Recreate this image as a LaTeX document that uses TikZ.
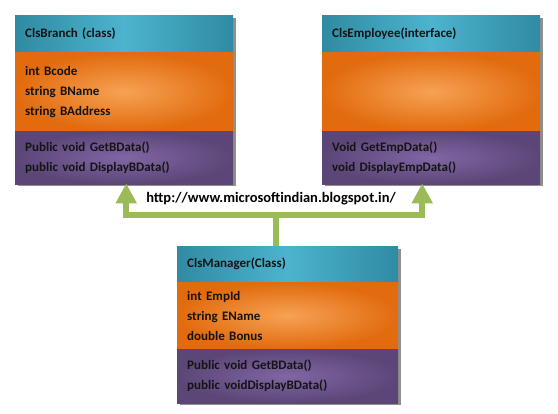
\documentclass[tikz,border=0pt]{standalone}
\usepackage{fontspec}
\setmainfont[WordSpace=0.75]{Carlito}
\usetikzlibrary{shadows,arrows.meta}
\definecolor{hdrD}{HTML}{2F8BA2}
\definecolor{hdrL}{HTML}{4DB3CE}
\definecolor{orD}{HTML}{E26B0E}
\definecolor{orL}{HTML}{F6A254}
\definecolor{puD}{HTML}{5C4677}
\definecolor{puL}{HTML}{8066A5}
\definecolor{grn}{HTML}{9BBB59}
\definecolor{txt}{HTML}{141414}
\tikzset{
  umlbox/.style={anchor=north west, inner sep=0pt, fill=puD,
    drop shadow={shadow xshift=3bp, shadow yshift=-3bp, opacity=0.55, fill=black!80}},
  sec/.style={anchor=north west, inner xsep=10bp, inner ysep=0pt, align=left,
    font=\fontsize{13bp}{20bp}\selectfont\bfseries, text=txt},
  hdr/.style={sec, left color=hdrD, right color=hdrD, middle color=hdrL},
  attr/.style={sec, inner color=orL, outer color=orD},
  meth/.style={sec, inner color=puL, outer color=puD},
  conn/.style={draw=grn, line width=6bp, line join=miter},
  tip/.style={-{Triangle[width=20bp,length=20bp]}},
}
\begin{document}
\begin{tikzpicture}[x=1bp,y=-1bp]
\useasboundingbox[fill=white] (0,0) rectangle (558,413);

% ClsBranch
\node[umlbox, minimum width=218bp, minimum height=168bp] (branch) at (15,15) {};
\node[hdr, text width=198bp, minimum height=37bp] (bh) at (15,15) {ClsBranch (class)};
\node[attr, text width=198bp, minimum height=78bp] (ba) at (bh.south west) {int Bcode\\string BName\\string BAddress};
\node[meth, text width=198bp, minimum height=53bp] (bm) at (ba.south west) {Public void GetBData()\\public void DisplayBData()};

% ClsEmployee
\node[umlbox, minimum width=218bp, minimum height=168bp] (emp) at (322,15) {};
\node[hdr, text width=198bp, minimum height=37bp] (eh) at (322,15) {ClsEmployee(interface)};
\node[attr, text width=198bp, minimum height=78bp] (ea) at (eh.south west) {};
\node[meth, text width=198bp, minimum height=53bp] (em) at (ea.south west) {Void GetEmpData()\\void DisplayEmpData()};

% ClsManager
\node[umlbox, minimum width=221bp, minimum height=156bp] (mgr) at (177,246) {};
\node[hdr, text width=201bp, minimum height=36bp] (mh) at (177,246) {ClsManager(Class)};
\node[attr, text width=201bp, minimum height=66bp] (ma) at (mh.south west) {int EmpId\\string EName\\double Bonus};
\node[meth, text width=201bp, minimum height=54bp] (mm) at (ma.south west) {Public void GetBData()\\public voidDisplayBData()};

% connectors
\coordinate (lvl) at (0,215);
\coordinate (mt) at ([xshift=-12bp]mgr.north);
\coordinate (bt) at ([xshift=2bp]branch.south);
\coordinate (et) at ([xshift=-9bp]emp.south);
\draw[conn] (mt) -- (mt |- lvl);
\draw[conn, tip] (mt |- lvl) -| (bt);
\draw[conn, tip] (mt |- lvl) -| (et);

\node[font=\fontsize{14.5bp}{16bp}\selectfont\bfseries, text=black] (url) at (271,199) {http://www.microsoftindian.blogspot.in/};
\end{tikzpicture}
\end{document}
